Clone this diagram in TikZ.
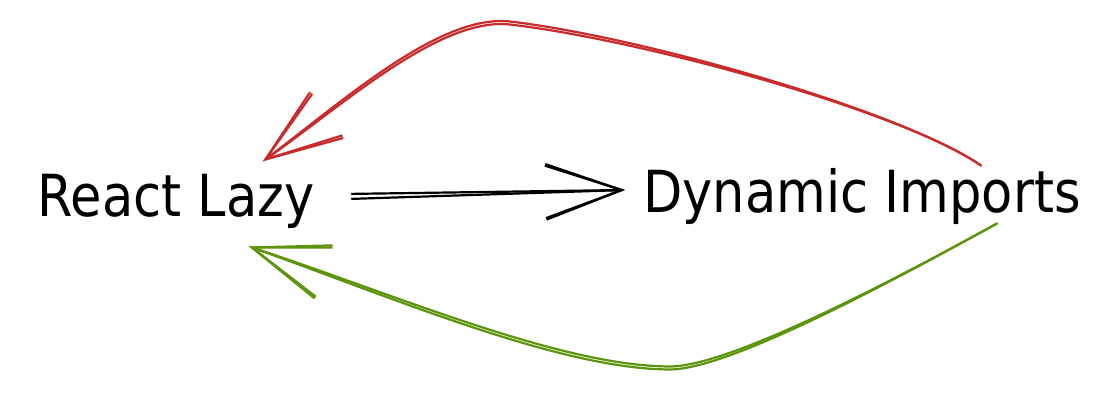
\documentclass[tikz,border=0pt]{standalone}
\usepackage{fontspec}
\newfontfamily\sketchfont[FakeStretch=0.88]{DejaVu Sans}
\usetikzlibrary{arrows.meta}
\definecolor{sketchred}{HTML}{C92A2A}
\definecolor{sketchgreen}{HTML}{5C940D}

\begin{document}
\begin{tikzpicture}[
  x=0.5pt, y=-0.5pt,
  word/.style={anchor=base, inner sep=0pt, font=\sketchfont\fontsize{29}{35}\selectfont},
  stroke/.style={line width=1.1pt, line cap=round, line join=round,
    -{Straight Barb[length=38pt,width=27pt]}},
]
\useasboundingbox (0,0) rectangle (1104,401);
\node[word] (lazy) at (176,217) {React Lazy};
\node[word] (imports) at (862,213) {Dynamic Imports};
% every connector is stroked twice, a little apart
\foreach \d in {0,1} {
  \draw[stroke] ([shift={(37,-8+5*\d)}]lazy.east) -- ([shift={(-18,-7)}]imports.west);
  \draw[stroke, sketchred] ([shift={(-100,-3)}]imports.north east)
    .. controls +(-80,-55) and +(130,15) .. ++(-471,-144+3*\d)
    .. controls +(-70,-8) and +(80,-60+4*\d) .. ([shift={(-52,-13)}]lazy.north east);
  \draw[stroke, sketchgreen] ([shift={(-84,-2)}]imports.south east)
    .. controls +(-100,55) and +(60,0) .. ++(-327,146-3*\d)
    .. controls +(-110,0) and +(141,50-4*\d) .. ([shift={(-66,17)}]lazy.south east);
}
\end{tikzpicture}
\end{document}
